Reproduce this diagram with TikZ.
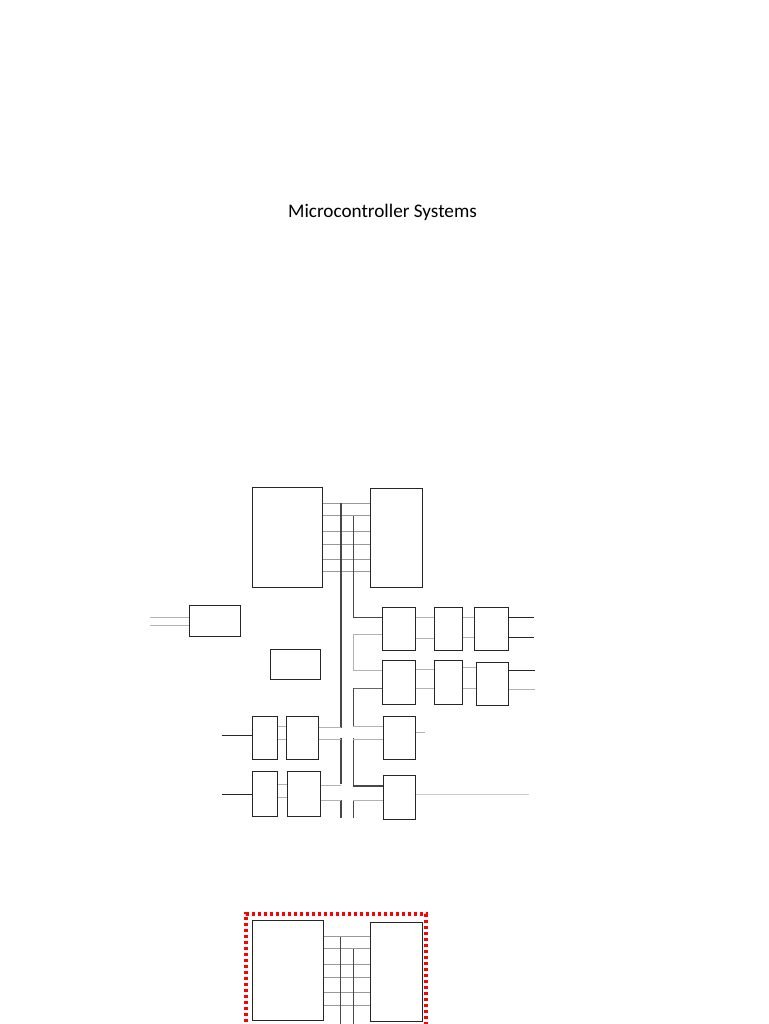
\documentclass[tikz,border=0pt]{standalone}
\usepackage{fontspec}
\setmainfont{Carlito}
\begin{document}
\begin{tikzpicture}[x=1pt,y=-1pt,
 box/.style={draw=black!85, line width=1pt, inner sep=0pt, anchor=north west},
 conn/.style={draw=black!30, line width=0.8pt},
 dconn/.style={draw=black!60, line width=0.9pt},
 bus/.style={draw=black!72, line width=1.1pt},
 ext/.style={draw=black!85, line width=1pt},
 redframe/.style={draw=red, line width=3.3pt, dash pattern=on 3.3pt off 2.7pt}]
\useasboundingbox (0,0) rectangle (768,1024);
\clip (0,0) rectangle (768,1024);
\node[font=\fontsize{19.2}{23}\selectfont] (title) at (382.5,212) {Microcontroller Systems};
% boxes
\node[box, minimum width=70pt, minimum height=100pt] (cpu) at (252,487) {};
\node[box, minimum width=52.5pt, minimum height=99pt] (mem) at (369.5,488) {};
\node[box, minimum width=51.5pt, minimum height=30.5pt] (ab) at (188.5,605) {};
\node[box, minimum width=50.5pt, minimum height=30.5pt] (cb) at (269.5,648.5) {};
\node[box, minimum width=32.5pt, minimum height=42.5pt] (a1) at (382,607) {};
\node[box, minimum width=28pt, minimum height=42.5pt] (a2) at (433.5,607) {};
\node[box, minimum width=34pt, minimum height=43pt] (a3) at (473.5,607) {};
\node[box, minimum width=32.5pt, minimum height=43.5pt] (b1) at (382,660) {};
\node[box, minimum width=28pt, minimum height=43.5pt] (b2) at (433.5,660) {};
\node[box, minimum width=32pt, minimum height=43pt] (b3) at (475.5,662) {};
\node[box, minimum width=24.5pt, minimum height=43pt] (c1) at (252,716) {};
\node[box, minimum width=32pt, minimum height=43pt] (c2) at (285.5,716) {};
\node[box, minimum width=32pt, minimum height=43pt] (d1) at (382.5,716) {};
\node[box, minimum width=25pt, minimum height=45pt] (e1) at (252,771) {};
\node[box, minimum width=33pt, minimum height=45pt] (e2) at (286.5,771) {};
\node[box, minimum width=32pt, minimum height=44.5pt] (d2) at (382.5,774.5) {};
% cpu - memory lines
\foreach \yy in {503.3,515.3,531.7,544.3,559.3,571.7}
  \draw[conn, draw=black!40] (cpu.east |- 0,\yy) -- (mem.west |- 0,\yy);
% buses
\coordinate (blt) at (341,503.3);
\coordinate (brt) at (353.3,515.5);
\draw[bus] (blt) -- (341,727.7);
\draw[bus] (341,738) -- (341,784);
\draw[bus] (341,800) -- (341,818);
\draw[bus] (brt) -- (353.3,617.7) -- (a1.west |- 0,617.7);
\draw[conn] (a1.west |- 0,634.3) -- (353.3,634.3) -- (353.3,670) -- (b1.west |- 0,670);
\draw[dconn] (b1.west |- 0,688.3) -- (353.3,688.3);
\draw[bus] (353.3,688.3) -- (353.3,727);
\draw[bus] (353.3,738) -- (353.3,786) -- (d2.west |- 0,786);
\draw[bus] (353.3,800) -- (353.3,818);
% address buffer / clock
\draw[conn] (150,617.7) -- (ab.west |- 0,617.7);
\draw[conn] (150,625.7) -- (ab.west |- 0,625.7);
% row A
\draw[conn] (a1.east |- 0,617.7) -- (a2.west |- 0,617.7);
\draw[conn] (a1.east |- 0,638.3) -- (a2.west |- 0,638.3);
\draw[conn] (a2.east |- 0,617.7) -- (a3.west |- 0,617.7);
\draw[conn] (a2.east |- 0,637.7) -- (a3.west |- 0,637.7);
\draw[ext] (a3.east |- 0,617.7) -- (533.5,617.7);
\draw[ext] (a3.east |- 0,637.7) -- (533.5,637.7);
% row B
\draw[conn] (b1.east |- 0,669) -- (b2.west |- 0,669);
\draw[conn] (b1.east |- 0,688.3) -- (b2.west |- 0,688.3);
\draw[conn] (b2.east |- 0,667.7) -- (b3.west |- 0,667.7);
\draw[conn] (b2.east |- 0,688.3) -- (b3.west |- 0,688.3);
\draw[ext] (b3.east |- 0,670) -- (535,670);
\draw[conn] (b3.east |- 0,689.3) -- (535,689.3);
% row C
\draw[ext] (221.7,735.7) -- (c1.west |- 0,735.7);
\draw[conn] (c1.east |- 0,726.7) -- (c2.west |- 0,726.7);
\draw[conn] (c1.east |- 0,739.3) -- (c2.west |- 0,739.3);
\draw[conn] (c2.east |- 0,727.7) -- (341,727.7);
\draw[conn] (c2.east |- 0,739.3) -- (341,739.3);
\draw[conn] (353.3,726.7) -- (d1.west |- 0,726.7);
\draw[conn] (353.3,739.3) -- (d1.west |- 0,739.3);
\draw[conn] (d1.east |- 0,732.7) -- (425,732.7);
% row E
\draw[ext] (221.7,794.3) -- (e1.west |- 0,794.3);
\draw[conn] (e1.east |- 0,784.3) -- (e2.west |- 0,784.3);
\draw[conn] (e1.east |- 0,797.7) -- (e2.west |- 0,797.7);
\draw[conn] (e2.east |- 0,785) -- (341,785);
\draw[conn] (e2.east |- 0,800) -- (341,800);
\draw[conn] (353.3,800) -- (d2.west |- 0,800);
\draw[conn, draw=black!20] (d2.east |- 0,794.3) -- (528.5,794.3);
% bottom copy
\node[box, minimum width=70.5pt, minimum height=100pt] (cpu2) at (252,920) {};
\node[box, minimum width=52.5pt, minimum height=99pt] (mem2) at (369.5,921.5) {};
\foreach \yy in {936.3,948.7,964.5,977.5,992.5,1005}
  \draw[conn, draw=black!40] (cpu2.east |- 0,\yy) -- (mem2.west |- 0,\yy);
\draw[bus] (340.8,937.3) -- (340.8,1030);
\draw[bus] (353.3,949.3) -- (353.3,1030);
\draw[redframe] (246,1040) -- (246,914) -- (426,914) -- (426,1040);
\end{tikzpicture}
\end{document}
